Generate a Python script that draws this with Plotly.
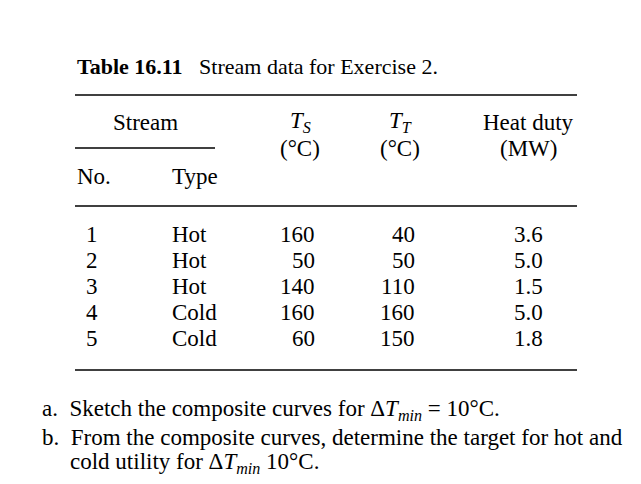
import plotly.graph_objects as go

stream_no = ["1", "2", "3", "4", "5"]
stream_type = ["Hot", "Hot", "Hot", "Cold", "Cold"]
t_supply = [160, 50, 140, 160, 60]
t_target = [40, 50, 110, 160, 150]
heat_duty = [3.6, 5.0, 1.5, 5.0, 1.8]

FONT = "Liberation Serif"
fig = go.Figure()
ann = []

def txt(x, y, s, anchor="left", size=23):
    ann.append(dict(x=x, y=y, text=s, showarrow=False, xanchor=anchor, yanchor="middle",
                    font=dict(family=FONT, size=size, color="black"), xref="x", yref="y"))

txt(5, 18, "2.  The stream data for a process are given in Table 16.11.", size=24)
txt(75, 66, "<b>Table 16.11</b>   Stream data for Exercise 2.", size=22)
txt(145, 122, "Stream", "center")
txt(300, 122, "<i>T</i><sub><i>S</i></sub>", "center")
txt(300, 148, "(°C)", "center")
txt(400, 122, "<i>T</i><sub><i>T</i></sub>", "center")
txt(400, 148, "(°C)", "center")
txt(528, 122, "Heat duty", "center")
txt(528, 148, "(MW)", "center")
txt(75, 176, "No.")
txt(170, 176, "Type")

y0, dy = 234, 26.2
for i in range(len(stream_no)):
    y = y0 + i * dy
    txt(92, y, stream_no[i], "center")
    txt(170, y, stream_type[i])
    txt(317, y, str(t_supply[i]), "right")
    txt(417, y, str(t_target[i]), "right")
    txt(528, y, f"{heat_duty[i]:.1f}", "center")

txt(40, 410, "a.  Sketch the composite curves for Δ<i>T</i><sub><i>min</i></sub> = 10°C.")
txt(40, 437, "b.  From the composite curves, determine the target for hot and")
txt(68, 463, "cold utility for Δ<i>T</i><sub><i>min</i></sub> 10°C.")

shapes = []
for (xa, xb, y) in [(75, 577, 95), (75, 215, 148), (75, 577, 206), (75, 577, 370)]:
    shapes.append(dict(type="line", x0=xa, x1=xb, y0=y, y1=y, xref="x", yref="y",
                       line=dict(color="black", width=1.3)))

fig.update_layout(width=641, height=484, margin=dict(l=0, r=0, t=0, b=0),
                  paper_bgcolor="white", plot_bgcolor="white",
                  xaxis=dict(range=[8, 649], visible=False, fixedrange=True),
                  yaxis=dict(range=[492, 8], visible=False, fixedrange=True),
                  annotations=ann, shapes=shapes, showlegend=False)
fig.write_html("out.html")
